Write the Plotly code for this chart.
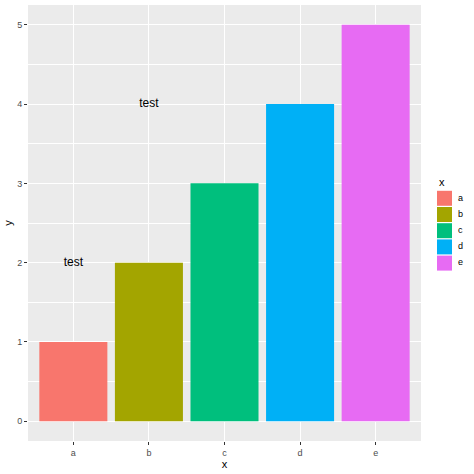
import plotly.graph_objects as go

categories = ["a", "b", "c", "d", "e"]
values = [1, 2, 3, 4, 5]
colors = ["#F8766D", "#A3A500", "#00BF7D", "#00B0F6", "#E76BF3"]

label_x = ["a", "b"]
label_y = [2, 4]
label_text = ["test", "test"]

legend_title = "x"

fig = go.Figure()

for cat, val, col in zip(categories, values, colors):
    fig.add_trace(go.Bar(x=[cat], y=[val], marker_color=col, marker_line_width=0,
                         width=0.9, name=cat, showlegend=False))

fig.add_trace(go.Scatter(x=label_x, y=label_y, text=label_text, mode="text",
                         textfont=dict(size=12, color="black", family="Liberation Sans, Arial"),
                         showlegend=False, hoverinfo="skip"))

# ggplot-style legend drawn on its own little axis pair
fig.add_trace(go.Scatter(x=[14.5] * len(categories), y=categories, mode="markers",
                         marker=dict(symbol="square", size=15, color=colors, line_width=0),
                         xaxis="x2", yaxis="y2", showlegend=False, hoverinfo="skip"))
fig.add_trace(go.Scatter(x=[28] * len(categories), y=categories, text=categories,
                         mode="text", textposition="middle right",
                         textfont=dict(size=9, color="black", family="Liberation Sans, Arial"),
                         xaxis="x2", yaxis="y2", showlegend=False, hoverinfo="skip"))
fig.add_annotation(x=7, y=-1.0, xref="x2", yref="y2", text=legend_title,
                   showarrow=False, xanchor="left", yanchor="middle",
                   font=dict(size=11, color="black", family="Liberation Sans, Arial"))
# white backdrop for the legend area (plot_bgcolor is shared by all subplots)
fig.add_shape(type="rect", xref="x2 domain", yref="y2 domain", x0=0, x1=1, y0=0, y1=1,
              fillcolor="white", line_width=0, layer="below")

axis_font = dict(size=9, color="#4D4D4D", family="Liberation Sans, Arial")
fig.update_layout(
    width=474, height=474,
    margin=dict(l=28, r=0, t=5, b=33, autoexpand=False),
    paper_bgcolor="white", plot_bgcolor="#EBEBEB",
    font=dict(family="Liberation Sans, Arial", color="black"),
    barmode="overlay",
    showlegend=False,
    xaxis=dict(domain=[0, 393 / 446], categoryorder="array", categoryarray=categories,
               range=[-0.6, 4.6], showgrid=True, gridcolor="white", gridwidth=1.1,
               ticks="outside", ticklen=3, tickcolor="#333333", tickfont=axis_font,
               title=dict(text="x", font=dict(size=11), standoff=2),
               zeroline=False, showline=False, fixedrange=True, automargin=False),
    yaxis=dict(range=[-0.25, 5.25], tickvals=[0, 1, 2, 3, 4, 5],
               showgrid=True, gridcolor="white", gridwidth=1.1,
               minor=dict(dtick=0.5, tick0=0.5, showgrid=True, gridcolor="white", gridwidth=0.5),
               ticks="outside", ticklen=3, tickcolor="#333333", tickfont=axis_font,
               title=dict(text="y", font=dict(size=11), standoff=2),
               zeroline=False, showline=False, fixedrange=True, automargin=False),
    xaxis2=dict(domain=[402 / 446, 1], range=[0, 44], visible=False, fixedrange=True),
    yaxis2=dict(domain=[0.3807, 0.6216], anchor="x2", type="category",
                categoryorder="array", categoryarray=categories,
                range=[4.735, -1.747], visible=False, fixedrange=True),
)

# drop the page's default body margin so the figure sits at the window corner
fig.write_html("out.html", config={"displayModeBar": False},
               post_script="document.body.style.margin='0';")
